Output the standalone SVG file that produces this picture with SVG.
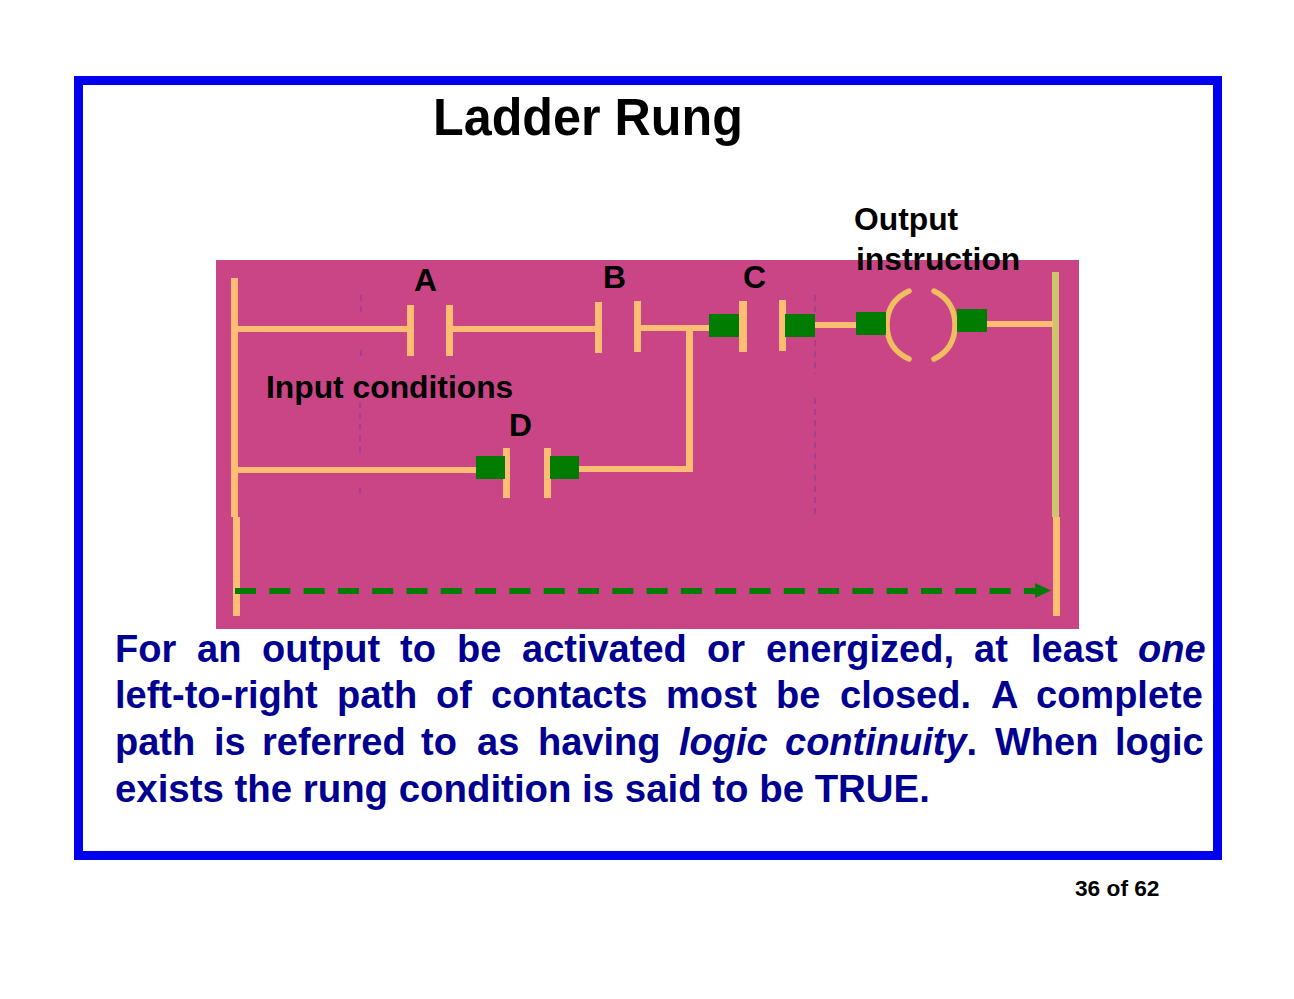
<svg xmlns="http://www.w3.org/2000/svg" width="1294" height="999" viewBox="0 0 1294 999">
<style>
text{font-family:"Liberation Sans",Arial,sans-serif;font-weight:700}
.b{fill:#000090;font-size:38px}
.l{fill:#000;font-size:31.800px}
.o{fill:#fdbd72}
.g{fill:#007d00}
.i{font-style:italic}
.d{stroke:#7a3a9a;stroke-width:1.500;stroke-dasharray:6 5;fill:none;opacity:.6}
.c{fill:none;stroke:#f0bd60;stroke-width:5.500;stroke-linecap:round}
</style>
<rect width="1294" height="999" fill="#fff"/>
<rect id="frame" x="78.500" y="80.500" width="1139" height="775" fill="none" stroke="#0000ee" stroke-width="9"/>
<text id="title" x="433" y="135" font-size="51" fill="#000" textLength="310" lengthAdjust="spacingAndGlyphs">Ladder Rung</text>
<rect id="panel" x="216" y="260" width="863" height="369" fill="#c94585"/>
<g id="connectors">
<rect class="o" x="231" y="278" width="7" height="239"/>
<rect class="o" x="233" y="517" width="7" height="99"/>
<rect fill="#cfc46e" x="1052" y="272" width="7" height="245"/>
<rect class="o" x="1053" y="517" width="7" height="99"/>
<rect class="o" x="238" y="326" width="170" height="6"/>
<rect class="o" x="453" y="326" width="143" height="6"/>
<rect class="o" x="641" y="325" width="68" height="6"/>
<rect class="o" x="815" y="322" width="41" height="6"/>
<rect class="o" x="987" y="321" width="66" height="6"/>
<rect class="o" x="238" y="467" width="238" height="6"/>
<rect class="o" x="579" y="466" width="114" height="6"/>
<rect class="o" x="686" y="328" width="7" height="144"/>
<path class="d" d="M361 295V316M361 350V356M360 402V452M360 488V495M815 295V312M815 340V374M815 398V515"/>
<path d="M235 591H1036" stroke="#007d00" stroke-width="6" stroke-dasharray="21 13.300" fill="none"/>
<path class="g" d="M1035 583L1051 590.500L1035 598Z"/>
</g>
<g id="contact-a"><rect class="o" x="407" y="305" width="7" height="51"/><rect class="o" x="446" y="305" width="7" height="51"/><text class="l" x="414" y="291">A</text></g>
<g id="contact-b"><rect class="o" x="595" y="302" width="7" height="51"/><rect class="o" x="634" y="301" width="7" height="51"/><text class="l" x="603" y="288">B</text></g>
<g id="contact-c"><rect class="o" x="739" y="301" width="8" height="51"/><rect class="o" x="779" y="300" width="7" height="51"/><rect class="g" x="709" y="314" width="30" height="23"/><rect class="g" x="785" y="314" width="30" height="23"/><text class="l" x="743" y="288">C</text></g>
<g id="contact-d"><rect class="o" x="503" y="448" width="7" height="50"/><rect class="o" x="544" y="448" width="7" height="50"/><rect class="g" x="476" y="456" width="29" height="23"/><rect class="g" x="550" y="456" width="29" height="23"/><text class="l" x="509" y="436">D</text></g>
<g id="output"><path class="c" d="M909 291Q887 301 887 325Q887 349 909 359"/><path class="c" d="M934 291Q955 301 955 325Q955 349 934 359"/><rect class="g" x="856" y="312" width="30" height="23"/><rect class="g" x="957" y="309" width="30" height="23"/><text class="l" x="854" y="230">Output</text><text class="l" x="856" y="270">instruction</text></g>
<g id="input-label"><text class="l" x="266" y="398">Input conditions</text></g>
<g id="body">
<text class="b" y="662"><tspan x="115">For </tspan><tspan x="197">an </tspan><tspan x="262">output </tspan><tspan x="400">to </tspan><tspan x="457">be </tspan><tspan x="522">activated </tspan><tspan x="707">or </tspan><tspan x="766">energized, </tspan><tspan x="974">at </tspan><tspan x="1031">least </tspan><tspan class="i" x="1138">one</tspan></text>
<text class="b" y="708"><tspan x="115">left-to-right </tspan><tspan x="337">path </tspan><tspan x="436">of </tspan><tspan x="491">contacts </tspan><tspan x="666">most </tspan><tspan x="776">be </tspan><tspan x="840">closed. </tspan><tspan x="991">A </tspan><tspan x="1036">complete</tspan></text>
<text class="b" y="755"><tspan x="115">path </tspan><tspan x="214">is </tspan><tspan x="262">referred </tspan><tspan x="421">to </tspan><tspan x="477">as </tspan><tspan x="538">having </tspan><tspan class="i" x="679">logic </tspan><tspan class="i" x="785">continuity</tspan>. <tspan x="995">When </tspan><tspan x="1115">logic</tspan></text>
<text class="b" x="115" y="802" font-size="38.400" style="font-size:38.400px">exists the rung condition is said to be TRUE.</text>
</g>
<text id="page" x="1075" y="896" font-size="22.700" fill="#000">36 of 62</text>
</svg>
